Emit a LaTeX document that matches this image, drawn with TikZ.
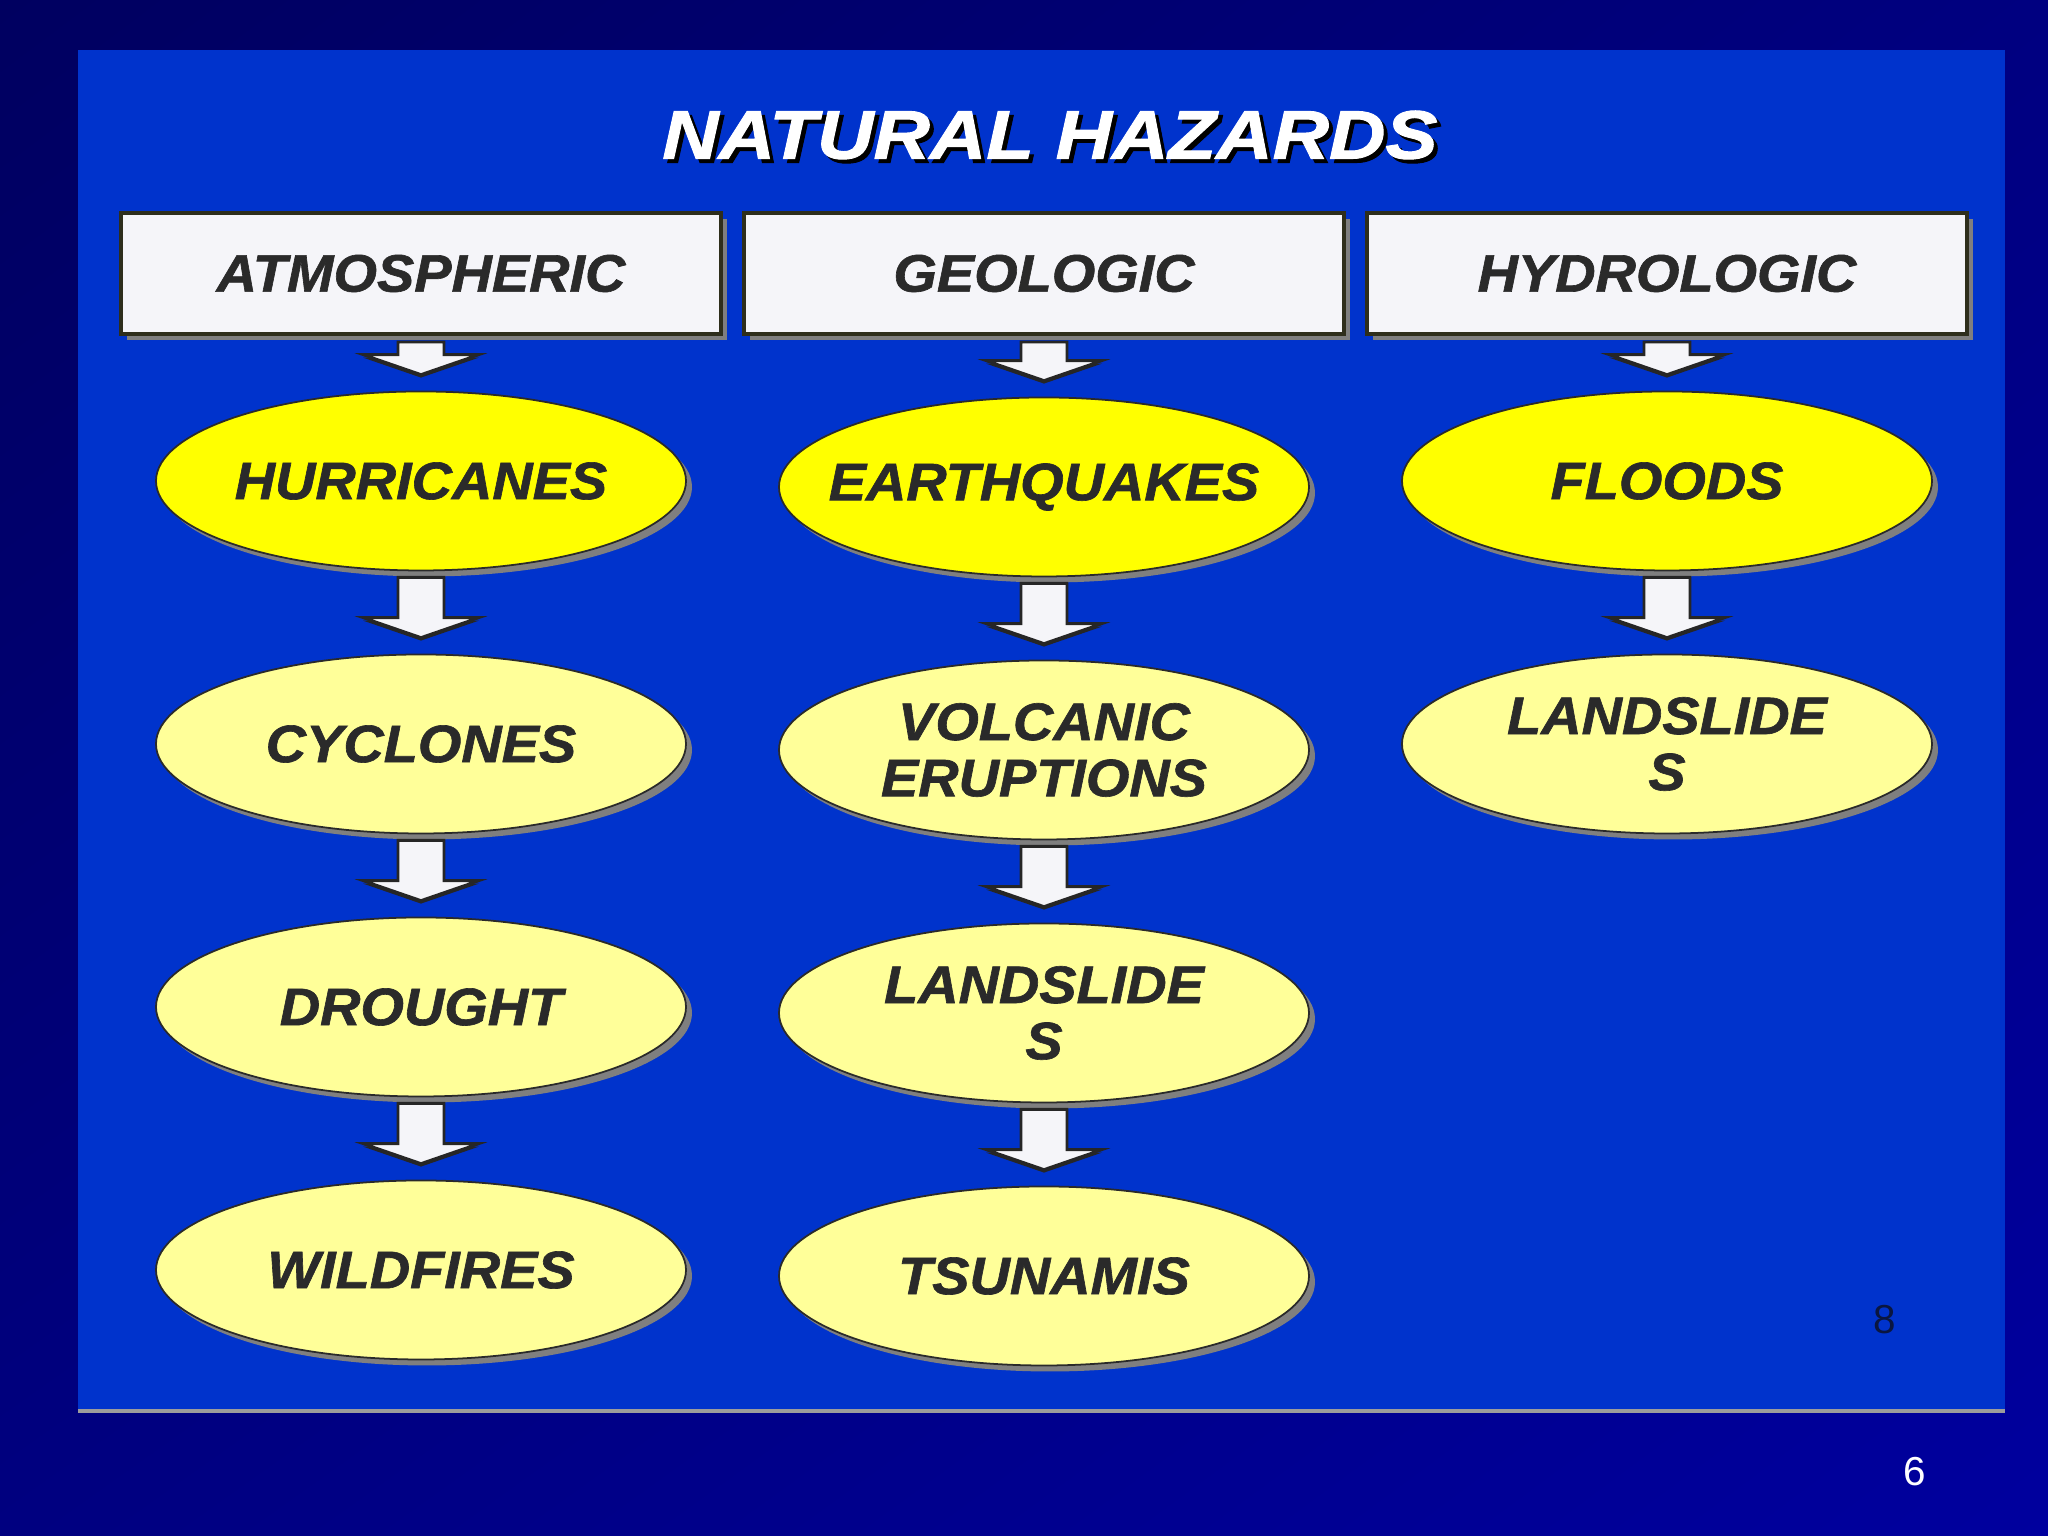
\documentclass[tikz,border=0pt]{standalone}
\usepackage{fontspec}
\setmainfont{Liberation Sans}
\newfontfamily\hazfont[FakeBold=1.2, FakeStretch=1.06]{Liberation Sans}
\newfontfamily\headfont[FakeBold=1.4, FakeStretch=1.14]{Liberation Sans}
\usetikzlibrary{positioning,shapes.geometric,shadows,shadings,calc}

\definecolor{panel}{HTML}{0033CC}
\definecolor{boxfill}{HTML}{F5F5F9}
\definecolor{boxline}{HTML}{2E2E1C}
\definecolor{ink}{HTML}{2A2A2A}
\definecolor{pale}{HTML}{FFFF99}
\definecolor{bright}{HTML}{FFFF00}
\definecolor{shade}{HTML}{7F7F7F}
\definecolor{arrline}{HTML}{262626}
\definecolor{rule}{HTML}{9C9C9C}
\definecolor{pagedark}{HTML}{0A1640}
\definecolor{navyA}{HTML}{000060}
\definecolor{navyB}{HTML}{000080}
\definecolor{navyC}{HTML}{00009E}

\begin{document}
\begin{tikzpicture}[node distance={26.3mm}, thick,
  box/.style = {draw=boxline, line width=1.1pt, fill=boxfill, minimum width=60mm, minimum height=12.1mm, text=ink,
    font=\hazfont\bfseries\itshape\fontsize{15}{16}\selectfont,
    drop shadow={shadow xshift=0.6mm, shadow yshift=-0.6mm, fill=shade, opacity=1}},
  haz/.style = {ellipse, draw=ink, line width=0.5pt, fill=pale, minimum width=53mm, minimum height=17.9mm,
    inner xsep=-8mm, inner ysep=0pt,
    align=center, text=ink, font=\hazfont\bfseries\itshape\fontsize{15}{16}\selectfont,
    drop shadow={shadow xshift=0.6mm, shadow yshift=-0.6mm, fill=shade, opacity=1}},
  hot/.style = {haz, fill=bright},
  down/.style = {fill=boxfill, draw=arrline, line width=0.8pt,
    drop shadow={shadow xshift=0mm, shadow yshift=-0.3mm, fill=arrline, opacity=1},
    to path={let \p1=(\tikztostart), \p2=(\tikztotarget) in
      (\x1-2.3mm,\y1-0.6mm) -- (\x1+2.3mm,\y1-0.6mm) -- (\x1+2.3mm,\y2+3.6mm) -- (\x1+5.8mm,\y2+3.6mm)
      -- (\x1,\y2+1.6mm) -- (\x1-5.8mm,\y2+3.6mm) -- (\x1-2.3mm,\y2+3.6mm) -- cycle}}]
		\useasboundingbox (0,0) rectangle (20.48,15.36);
		\shade[upper left=navyA, upper right=navyB, lower left=navyB, lower right=navyC] (0,0) rectangle (20.48,15.36);
		\fill[panel] (0.78,1.25) rectangle (20.05,14.86);
		\draw[rule, line width=1.4pt] (0.78,1.25) -- (20.05,1.25);

		\node[font=\headfont\bfseries\itshape\fontsize{19.5}{22}\selectfont, text=black] (titleshade) at (10.54,13.97) {NATURAL HAZARDS};
		\node[font=\headfont\bfseries\itshape\fontsize{19.5}{22}\selectfont, text=white] (title) at (10.50,14.01) {NATURAL HAZARDS};

		\node[box] (atm) at (4.21,12.625) {ATMOSPHERIC};
		\node[box] (geo) [right of=atm, node distance=62.3mm] {GEOLOGIC};
		\node[box] (hyd) [right of=geo, node distance=62.3mm] {HYDROLOGIC};

		% atmospheric column
		\node[hot] (hur) [below of=atm, node distance=20.75mm] {HURRICANES};
		\node[haz] (cyc) [below of=hur] {CYCLONES};
		\node[haz] (dro) [below of=cyc] {DROUGHT};
		\node[haz] (wil) [below of=dro] {WILDFIRES};

		% geologic column
		\node[hot] (ear) [below of=geo, node distance=21.35mm] {EARTHQUAKES};
		\node[haz] (vol) [below of=ear] {VOLCANIC\\ERUPTIONS};
		\node[haz] (lsg) [below of=vol] {LANDSLIDE\\S};
		\node[haz] (tsu) [below of=lsg] {TSUNAMIS};

		% hydrologic column
		\node[hot] (flo) [below of=hyd, node distance=20.75mm] {FLOODS};
		\node[haz] (lsh) [below of=flo] {LANDSLIDE\\S};

		\draw[down] (atm.south) to (hur.north);
		\draw[down] (hur.south) to (cyc.north);
		\draw[down] (cyc.south) to (dro.north);
		\draw[down] (dro.south) to (wil.north);
		\draw[down] (geo.south) to (ear.north);
		\draw[down] (ear.south) to (vol.north);
		\draw[down] (vol.south) to (lsg.north);
		\draw[down] (lsg.south) to (tsu.north);
		\draw[down] (hyd.south) to (flo.north);
		\draw[down] (flo.south) to (lsh.north);

		\node[text=pagedark, font=\fontsize{11.5}{13}\selectfont] (p8) at (18.85,2.16) {8};
		\node[text=white, font=\fontsize{11.5}{13}\selectfont] (p6) at (19.15,0.64) {6};
		\end{tikzpicture}
\end{document}
